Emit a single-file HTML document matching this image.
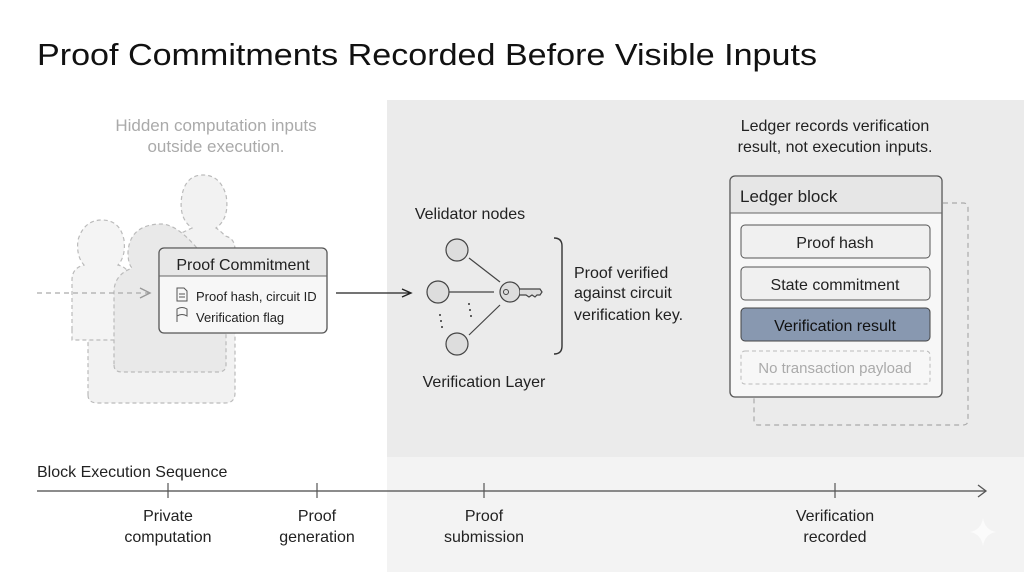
<!DOCTYPE html>
<html><head><meta charset="utf-8"><style>
html,body{margin:0;padding:0;background:#fff}
svg{display:block}
text{font-family:"Liberation Sans",sans-serif}
</style></head><body>
<svg width="1024" height="572" viewBox="0 0 1024 572" xmlns="http://www.w3.org/2000/svg">
<rect x="0" y="0" width="1024" height="572" fill="#fff"/>
<rect x="387" y="100" width="637" height="357" fill="#ebebeb"/>
<rect x="387" y="457" width="637" height="115" fill="#f3f3f3"/>
<text x="37" y="65" font-size="31" fill="#111" textLength="780" lengthAdjust="spacingAndGlyphs">Proof Commitments Recorded Before Visible Inputs</text>

<text x="216" y="131" font-size="17" fill="#aaa" text-anchor="middle">Hidden computation inputs</text>
<text x="216" y="152" font-size="17" fill="#aaa" text-anchor="middle">outside execution.</text>

<!-- silhouettes -->
<g stroke="#bbb" stroke-width="1.2" stroke-dasharray="4,3">
<path d="M58 340 L58 340" />
<path d="M88 395 Q88 403 98 403 L225 403 Q235 403 235 393 L235 250 Q235 238 225 236 Q222 232 216 228 Q230 218 226 195 Q220 175 203 175 Q186 175 182 195 Q178 218 192 228 L175 236 Q165 240 165 250 L165 330 L98 330 Q88 330 88 340 Z" fill="#f2f2f2"/>
<path d="M72 330 L72 280 Q72 268 84 265 Q76 256 78 240 Q84 220 102 220 Q120 220 124 240 Q126 256 118 265 Q130 268 130 280 L130 340 L72 340 Z" fill="#f4f4f4"/>
<path d="M114 365 Q114 372 122 372 L218 372 Q226 372 226 365 L226 280 Q226 262 205 258 Q180 225 162 224 Q130 224 128 252 Q128 264 132 268 Q114 275 114 292 Z" fill="#e9e9e9"/>
</g>
<line x1="37" y1="293" x2="150" y2="293" stroke="#aaa" stroke-width="1.2" stroke-dasharray="5,4"/>
<path d="M140 288 L150 293 L140 298" fill="none" stroke="#999" stroke-width="1.4"/>

<!-- proof commitment box -->
<rect x="159" y="248" width="168" height="85" rx="5" fill="#f7f7f7" stroke="#555" stroke-width="1.3"/>
<path d="M160 276 L160 253 Q160 249 164 249 L322 249 Q326 249 326 253 L326 276 Z" fill="#e8e8e8"/>
<line x1="159" y1="276" x2="327" y2="276" stroke="#666" stroke-width="1"/>
<text x="243" y="270" font-size="16" fill="#222" text-anchor="middle">Proof Commitment</text>
<path d="M177 288 L184 288 L187 291 L187 301 L177 301 Z M179 294 H185 M179 297 H185" fill="none" stroke="#555" stroke-width="1"/>
<path d="M177 322 L177 309 Q182 306 187 309 L187 316 Q182 313 177 316" fill="none" stroke="#555" stroke-width="1"/>
<text x="196" y="301" font-size="13" fill="#222">Proof hash, circuit ID</text>
<text x="196" y="322" font-size="13" fill="#222">Verification flag</text>

<line x1="336" y1="293" x2="410" y2="293" stroke="#222" stroke-width="1.3"/>
<path d="M402 289 L411 293 L402 297" fill="none" stroke="#222" stroke-width="1.4"/>

<!-- validator -->
<text x="470" y="219" font-size="16" fill="#222" text-anchor="middle">Velidator nodes</text>
<g stroke="#444" stroke-width="1.2">
<line x1="469" y1="258" x2="500" y2="282"/>
<line x1="449" y1="292" x2="494" y2="292"/>
<line x1="469" y1="335" x2="500" y2="305"/>
<circle cx="457" cy="250" r="11" fill="#ddd"/>
<circle cx="438" cy="292" r="11" fill="#ddd"/>
<circle cx="457" cy="344" r="11" fill="#ddd"/>
<circle cx="510" cy="292" r="10" fill="#ddd"/>
<path d="M520 289 L540 289 L542 292 L540 295 L537 295 L535 297 L532 295 L529 297 L526 295 L520 295" fill="#ddd"/>
</g>
<circle cx="506" cy="292" r="2.5" fill="none" stroke="#444"/>
<g fill="#333"><circle cx="440" cy="315" r="1"/><circle cx="441" cy="321" r="1"/><circle cx="442" cy="327" r="1"/><circle cx="469" cy="304" r="1"/><circle cx="470" cy="310" r="1"/><circle cx="471" cy="316" r="1"/></g>
<path d="M554 238 Q562 238 562 246 L562 346 Q562 354 554 354" fill="none" stroke="#333" stroke-width="1.4"/>
<text x="574" y="278" font-size="16" fill="#222">Proof verified</text>
<text x="574" y="298" font-size="16" fill="#222">against circuit</text>
<text x="574" y="320" font-size="16" fill="#222">verification key.</text>
<text x="484" y="387" font-size="16" fill="#222" text-anchor="middle">Verification Layer</text>

<!-- ledger -->
<text x="835" y="131" font-size="16" fill="#222" text-anchor="middle">Ledger records verification</text>
<text x="835" y="152" font-size="16" fill="#222" text-anchor="middle">result, not execution inputs.</text>
<path d="M943 203 L963 203 Q968 203 968 208 L968 420 Q968 425 963 425 L758 425 Q754 425 754 420 L754 398" fill="none" stroke="#aaa" stroke-width="1.2" stroke-dasharray="5,4"/>
<rect x="730" y="176" width="212" height="221" rx="5" fill="#f7f7f7" stroke="#555" stroke-width="1.3"/>
<path d="M731 213 L731 181 Q731 177 735 177 L937 177 Q941 177 941 181 L941 213 Z" fill="#e6e6e6"/>
<line x1="730" y1="213" x2="942" y2="213" stroke="#666"/>
<text x="740" y="202" font-size="17" fill="#222">Ledger block</text>
<rect x="741" y="225" width="189" height="33" rx="4" fill="#f0f0f0" stroke="#555"/>
<text x="835" y="248" font-size="16" fill="#222" text-anchor="middle">Proof hash</text>
<rect x="741" y="267" width="189" height="33" rx="4" fill="#f0f0f0" stroke="#555"/>
<text x="835" y="290" font-size="16" fill="#222" text-anchor="middle">State commitment</text>
<rect x="741" y="308" width="189" height="33" rx="4" fill="#8898b0" stroke="#444"/>
<text x="835" y="331" font-size="16" fill="#111" text-anchor="middle">Verification result</text>
<rect x="741" y="351" width="189" height="33" rx="4" fill="none" stroke="#bbb" stroke-dasharray="4,3"/>
<text x="835" y="373" font-size="15" fill="#aaa" text-anchor="middle">No transaction payload</text>

<!-- timeline -->
<text x="37" y="477" font-size="16" fill="#222">Block Execution Sequence</text>
<line x1="37" y1="491" x2="985" y2="491" stroke="#666" stroke-width="1.4"/>
<path d="M978 485 L986 491 L978 497" fill="none" stroke="#555" stroke-width="1.3"/>
<g stroke="#555" stroke-width="1.2">
<line x1="168" y1="483" x2="168" y2="498"/><line x1="317" y1="483" x2="317" y2="498"/>
<line x1="484" y1="483" x2="484" y2="498"/><line x1="835" y1="483" x2="835" y2="498"/>
</g>
<g font-size="16" fill="#222" text-anchor="middle">
<text x="168" y="521">Private</text><text x="168" y="542">computation</text>
<text x="317" y="521">Proof</text><text x="317" y="542">generation</text>
<text x="484" y="521">Proof</text><text x="484" y="542">submission</text>
<text x="835" y="521">Verification</text><text x="835" y="542">recorded</text>
</g>
<path d="M983 518 Q985 530 996 532 Q985 534 983 546 Q981 534 970 532 Q981 530 983 518 Z" fill="#fbfbfb"/>
</svg>
</body></html>
